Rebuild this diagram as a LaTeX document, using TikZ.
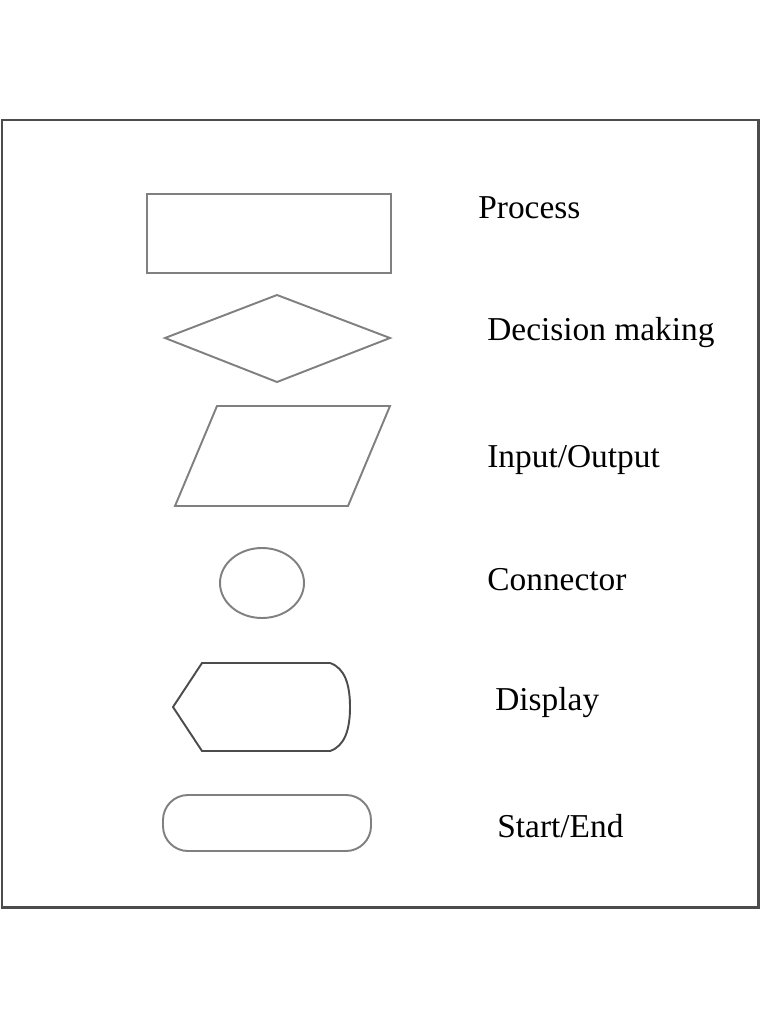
\documentclass[tikz,border=0pt]{standalone}
\usepackage{fontspec}
\setmainfont{Liberation Serif}
\usetikzlibrary{positioning}

\tikzset{
  shapeline/.style={draw=black!50, line width=1.1pt},
  legendtext/.style={right, font=\fontsize{19}{22}\selectfont, inner sep=0pt}
}

\begin{document}
\begin{tikzpicture}[x=0.02cm, y=-0.02cm]
        \useasboundingbox (0,0) rectangle (768,1024);
        \draw[black!70, line width=1.7pt] (2,120) rectangle (758,907);
        % shapes
        \draw[shapeline] (147,194) rectangle (391,273);
        \draw[shapeline] (165,338) -- (277,295) -- (390,338) -- (277,382) -- cycle;
        \draw[shapeline] (217,406) -- (390,406) -- (348,506) -- (175,506) -- cycle;
        \draw[shapeline] (262,583) ellipse (42 and 35);
        \draw[shapeline, draw=black!70] (202,663) -- (330,663)
            .. controls (345,668) and (350,685) .. (350,707)
            .. controls (350,729) and (345,746) .. (330,751)
            -- (202,751) -- (173,707) -- cycle;
        \draw[shapeline, rounded corners=0.5cm] (163,795) rectangle (371,851);
        % labels
        \node[legendtext] (process) at (478,208) {Process};
        \node[legendtext] (decision) at (487,333) {Decision making};
        \node[legendtext] (inout) at (487,460) {Input/Output};
        \node[legendtext] (connector) at (487,580) {Connector};
        \node[legendtext] (display) at (495,703) {Display};
        \node[legendtext] (startend) at (497,826) {Start/End};
    \end{tikzpicture}
\end{document}
